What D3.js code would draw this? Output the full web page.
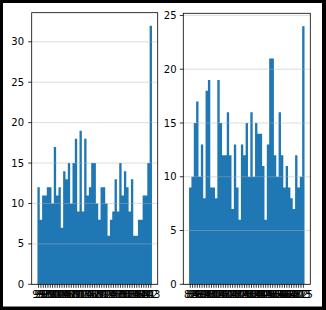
<!DOCTYPE html>
<html>
<head>
<meta charset="utf-8">
<script src="https://cdn.jsdelivr.net/npm/d3@7"></script>
<style>
  html, body { margin: 0; padding: 0; background: #000; }
  svg { display: block; }
  text { font-family: "DejaVu Sans", sans-serif; font-size: 10px; fill: #000; }
</style>
</head>
<body>
<div id="chart"></div>
<script>
// left histogram counts, one per bin
const leftCounts = [12, 8, 11, 11, 12, 12, 10, 17, 11, 12, 7, 14, 13, 15, 10, 15, 18, 9, 19, 9,
    18, 11, 12, 15, 15, 10, 8, 12, 12, 10, 6, 8, 9, 13, 9, 15, 11, 14, 12, 9,
    13, 6, 6, 8, 8, 11, 11, 15, 32];
// right histogram counts
const rightCounts = [9, 10, 15, 17, 10, 13, 8, 18, 19, 9, 9, 8, 19, 15, 12, 12, 16, 12, 7, 13,
    9, 6, 13, 12, 15, 10, 16, 10, 15, 14, 14, 11, 6, 13, 21, 21, 12, 10, 16, 12,
    9, 11, 9, 8, 7, 12, 9, 10, 24];
// x tick labels (overlap into a smudge in the original)
const leftLabels = ['95', '96', '97', '98', '99', '100', '101', '102', '103', '104', '105', '106',
    '107', '108', '109', '110', '111', '112', '113', '114', '115', '116', '117', '118', '119',
    '120', '121', '122', '123', '124', '125', '126', '127', '128', '129', '130', '131', '132',
    '133', '134', '135', '136', '137', '138', '139', '140', '141', '142', '143'];
const rightLabels = ['82', '84', '86', '88', '90', '92', '94', '96', '98', '100', '102', '104',
    '106', '108', '110', '112', '114', '116', '118', '120', '122', '124', '126', '128', '130',
    '132', '134', '136', '138', '140', '142', '144', '146', '148', '150', '152', '154', '156',
    '158', '160', '162', '164', '166', '168', '170', '171', '172', '173', '175'];
const leftYTicks = [0, 5, 10, 15, 20, 25, 30];
const rightYTicks = [0, 5, 10, 15, 20, 25];

const W = 326, H = 310;
const svg = d3.select('#chart').append('svg')
    .attr('width', W)
    .attr('height', H);

svg.append('rect').attr('width', W).attr('height', H).attr('fill', '#000');
svg.append('rect')
    .attr('x', 3).attr('y', 3)
    .attr('width', 319).attr('height', 303.5)
    .attr('fill', '#fff');

function drawPanel(box, counts, labels, yTicks, labelX) {
    const n = counts.length;
    const x = d3.scaleLinear()
        .domain([-0.05 * n, n * 1.05])
        .range([box.x0, box.x1]);
    const y = d3.scaleLinear()
        .domain([0, d3.max(counts) * 1.05])
        .range([box.y1, box.y0]);

    const g = svg.append('g');

    // bins drawn as one stepped shape so neighbouring bars leave no seams
    const steps = counts.map((d, i) => [i, d]);
    steps.push([n, counts[n - 1]]);
    g.append('path')
        .datum(steps)
        .attr('fill', '#1f77b4')
        .attr('d', d3.area()
            .curve(d3.curveStepAfter)
            .x(d => x(d[0]))
            .y0(y(0))
            .y1(d => y(d[1])));

    // grid sits on top of the bars
    g.selectAll('.grid')
        .data(yTicks)
        .enter()
        .append('line')
        .attr('x1', box.x0).attr('x2', box.x1)
        .attr('y1', d => y(d)).attr('y2', d => y(d))
        .attr('stroke', '#b0b0b0')
        .attr('stroke-opacity', 0.55)
        .attr('stroke-width', 0.8);

    // y ticks
    g.selectAll('.ytick')
        .data(yTicks)
        .enter()
        .append('line')
        .attr('x1', box.x0 - 3.5).attr('x2', box.x0)
        .attr('y1', d => y(d)).attr('y2', d => y(d))
        .attr('stroke', '#000')
        .attr('stroke-width', 0.8);

    g.selectAll('.ylab')
        .data(yTicks)
        .enter()
        .append('text')
        .attr('x', labelX)
        .attr('y', d => y(d) + 3.6)
        .attr('text-anchor', 'end')
        .text(d => d);

    // x ticks at bin centres
    g.selectAll('.xtick')
        .data(labels)
        .enter()
        .append('line')
        .attr('x1', (d, i) => x(i + 0.5)).attr('x2', (d, i) => x(i + 0.5))
        .attr('y1', box.y1).attr('y2', box.y1 + 3.5)
        .attr('stroke', '#000')
        .attr('stroke-width', 0.8);

    g.selectAll('.xlab')
        .data(labels)
        .enter()
        .append('text')
        .attr('x', (d, i) => x(i + 0.5))
        .attr('y', box.y1 + 14)
        .attr('text-anchor', 'middle')
        .text(d => d);

    g.append('rect')
        .attr('x', box.x0).attr('y', box.y0)
        .attr('width', box.x1 - box.x0)
        .attr('height', box.y1 - box.y0)
        .attr('fill', 'none')
        .attr('stroke', '#000')
        .attr('stroke-width', 0.8);
}

drawPanel({x0: 31.7, x1: 157.7, y0: 12.7, y1: 284.3}, leftCounts, leftLabels, leftYTicks, 24);
drawPanel({x0: 183.3, x1: 310.3, y0: 13.3, y1: 284.3}, rightCounts, rightLabels, rightYTicks, 176.5);
</script>
</body>
</html>
